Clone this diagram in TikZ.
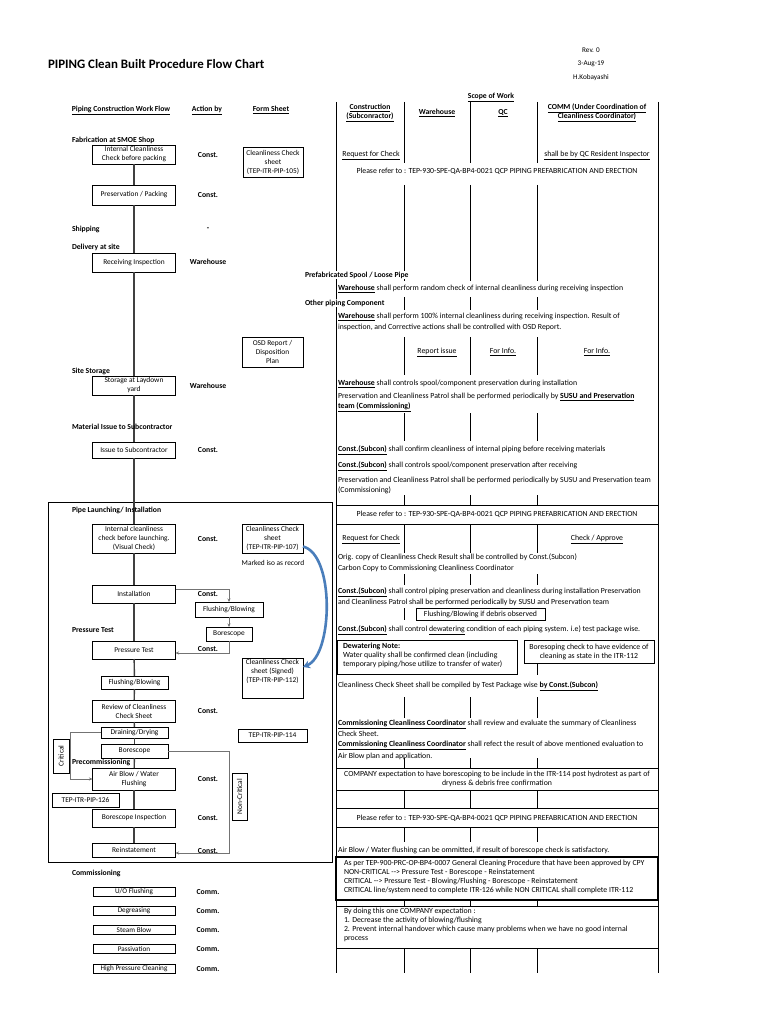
\documentclass[tikz,border=0pt]{standalone}
\usepackage{fontspec}
\setmainfont{Carlito}
\usetikzlibrary{arrows.meta,calc}
\newcommand\fsR{\fontsize{7.8}{9}\selectfont}
\newcommand\fsB{\fontsize{7.4}{9}\selectfont}
\newcommand\fsL{\fontsize{7.7}{9}\selectfont}
\newcommand\fsS{\fontsize{7.2}{8}\selectfont}
\definecolor{arrblue}{RGB}{74,126,187}
\begin{document}
\begin{tikzpicture}[x=1pt,y=-1pt,
  every node/.style={inner sep=0pt, outer sep=0pt},
  flow/.style={draw, line width=0.7pt, fill=white, align=center, minimum width=83pt, font=\fsB},
  sflow/.style={flow, minimum width=67pt},
  form/.style={draw, line width=0.7pt, fill=white, align=center, font=\fsB},
  cflow/.style={draw, line width=0.7pt, fill=white, minimum width=82pt, minimum height=9pt, font=\fsS},
  lab/.style={anchor=west, font=\fsL\bfseries},
  wlab/.style={anchor=west, font=\fsL\bfseries, fill=white, inner ysep=1pt},
  act/.style={font=\fsL\bfseries},
  hdr/.style={font=\fsL\bfseries, align=center},
  rt/.style={anchor=west, font=\fsR},
  ct/.style={font=\fsR, align=center},
  tbox/.style={draw, line width=0.8pt, fill=white},
  mainline/.style={line width=1.4pt, draw=black!75},
  conn/.style={line width=0.6pt, draw=black!55, -{Stealth[length=3.5pt,width=3pt]}},
  tline/.style={line width=1pt, draw=black},
  bluearrow/.style={line width=2.6pt, draw=arrblue, -{Stealth[length=7pt,width=8pt]}}
]
\useasboundingbox (0,0) rectangle (768,1024);
\fill[white] (0,0) rectangle (768,1024);

% ---------- header ----------
\node[anchor=west, font=\fontsize{12.9}{14}\selectfont\bfseries] (title) at (48,64) {PIPING Clean Built Procedure Flow Chart};
\node[font=\fsS] (rev) at (591,50) {Rev. 0};
\node[font=\fsS] (date) at (591,64) {3-Aug-19};
\node[font=\fsS] (auth) at (591,78) {H.Kobayashi};
\node[hdr] (scope) at (491,97) {\underline{Scope of Work}};
\node[hdr] (h1) at (121,110) {\underline{Piping Construction Work Flow}};
\node[hdr] (h2) at (207,110) {\underline{Action by}};
\node[hdr] (h3) at (271,110) {\underline{Form Sheet}};
\node[hdr] (h4) at (370,113) {\underline{Construction}\\\underline{(Subconractor)}};
\node[hdr] (h5) at (437,113) {\underline{Warehouse}};
\node[hdr] (h6) at (503,113) {\underline{QC}};
\node[hdr] (h7) at (597,113) {\underline{COMM (Under Coordination of}\\\underline{Cleanliness Coordinator)}};

% ---------- right table lines ----------
\draw[tline] (336,102) -- (336,973);
\draw[tline] (658,102) -- (658,973);
\foreach \a/\b in {102/163,185/281,297/310,337/375,413/441,495/505,524/553,574/585,697/718,758/768,790/808,827/842,900/906,948/973}{
  \foreach \x in {404,470,537}{ \draw[tline] (\x,\a) -- (\x,\b); }
}
\draw[tline] (404,608) -- (404,620);
\draw[tline] (537,663) -- (537,675);
\foreach \y in {505,524,768,790,808,827}{ \draw[tline] (336,\y) -- (658,\y); }
\draw[tline, line width=1.2pt] (336,857) rectangle (658,900);
\draw[tline] (336,906) rectangle (658,948);

% ---------- right texts ----------
\node[ct] (r1) at (371,155) {\underline{Request for Check}};
\node[ct] (r2) at (597,155) {\underline{shall be by QC Resident Inspector}};
\node[ct, fill=white, inner ysep=2pt] (r3) at (497,171) {Please refer to : TEP-930-SPE-QA-BP4-0021 QCP PIPING PREFABRICATION AND ERECTION};
\node[wlab] (r4) at (305,275) {Prefabricated Spool / Loose Pipe};
\node[rt] (r5) at (338,289) {\underline{\textbf{Warehouse}} shall perform random check of internal cleanliness during receiving inspection};
\node[wlab] (r6) at (305,303) {Other piping Component};
\node[rt] (r7) at (338,317) {\underline{\textbf{Warehouse}} shall perform 100\% internal cleanliness during receiving inspection. Result of};
\node[rt] (r8) at (338,327) {inspection, and Corrective actions shall be controlled with OSD Report.};
\node[ct] (r9a) at (437,352) {\underline{Report issue}};
\node[ct] (r9b) at (503,352) {\underline{For Info.}};
\node[ct] (r9c) at (597,352) {\underline{For Info.}};
\node[rt] (r10) at (338,384) {\underline{\textbf{Warehouse}} shall controls spool/component preservation during installation};
\node[rt] (r11) at (338,397) {Preservation and Cleanliness Patrol shall be performed periodically by \underline{\textbf{SUSU and Preservation}}};
\node[rt] (r12) at (338,407) {\underline{\textbf{team (Commissioning)}}};
\node[rt] (r13) at (338,450) {\underline{\textbf{Const.(Subcon)}} shall confirm cleanliness of internal piping before receiving materials};
\node[rt] (r14) at (338,466) {\underline{\textbf{Const.(Subcon)}} shall controls spool/component preservation after receiving};
\node[rt] (r15) at (338,480) {Preservation and Cleanliness Patrol shall be performed periodically by SUSU and Preservation team};
\node[rt] (r16) at (338,490) {(Commissioning)};
\node[ct] (r17) at (497,514) {Please refer to : TEP-930-SPE-QA-BP4-0021 QCP PIPING PREFABRICATION AND ERECTION};
\node[ct] (r18a) at (371,539) {\underline{Request for Check}};
\node[ct] (r18b) at (597,539) {\underline{Check / Approve}};
\node[rt] (r19) at (338,557) {Orig. copy of Cleanliness Check Result shall be controlled by Const.(Subcon)};
\node[rt] (r20) at (338,568) {Carbon Copy to Commissioning Cleanliness Coordinator};
\node[rt] (r21) at (338,592) {\underline{\textbf{Const.(Subcon)}} shall control piping preservation and cleanliness during installation Preservation};
\node[rt] (r22) at (338,602) {and Cleanliness Patrol shall be performed periodically by SUSU and Preservation team};
\node[tbox, font=\fsR, minimum width=129pt, minimum height=12pt] (fbd) at (480.5,614) {Flushing/Blowing if debris observed};
\node[rt] (r23) at (338,630) {\underline{\textbf{Const.(Subcon)}} shall control \underline{dewatering} condition of each piping system. i.e) test package wise.};
\node[tbox, minimum width=180pt, minimum height=34pt] (dwb) at (427,657) {};
\node[anchor=north west, font=\fsR, align=left] (dwt) at (343,643) {\textbf{Dewatering Note:}\\Water quality shall be confirmed clean (including\\temporary piping/hose utilize to transfer of water)};
\node[tbox, font=\fsR, align=center, minimum width=130pt, minimum height=23pt] (bsc) at (589,651.5) {Boresoping check to have evidence of\\cleaning as state in the ITR-112};
\node[rt] (r24) at (338,686) {Cleanliness Check Sheet shall be compiled by Test Package wise \underline{\textbf{by Const.(Subcon)}}};
\node[rt] (r25) at (338,724) {\underline{\textbf{Commissioning Cleanliness Coordinator}} shall review and evaluate the summary of Cleanliness};
\node[rt] (r26) at (338,734) {Check Sheet.};
\node[rt] (r27) at (338,745) {\underline{\textbf{Commissioning Cleanliness Coordinator}} shall refect the result of above mentioned evaluation to};
\node[rt] (r28) at (338,756) {Air Blow plan and application.};
\node[ct] (r29) at (497,778.5) {COMPANY expectation to have borescoping to be include in the ITR-114 post hydrotest as part of\\dryness \& debris free confirmation};
\node[ct] (r30) at (497,818) {Please refer to : TEP-930-SPE-QA-BP4-0021 QCP PIPING PREFABRICATION AND ERECTION};
\node[rt] (r31) at (338,850) {Air Blow / Water flushing can be ommitted, if result of borescope check is satisfactory.};
\node[anchor=north west, font=\fsR, align=left] (r32) at (344,860.5) {As per TEP-900-PRC-OP-BP4-0007 General Cleaning Procedure that have been approved by CPY\\NON-CRITICAL -{}-> Pressure Test - Borescope - Reinstatement\\CRITICAL -{}-> Pressure Test - Blowing/Flushing - Borescope - Reinstatement\\CRITICAL line/system need to complete ITR-126 while NON CRITICAL shall complete ITR-112};
\node[anchor=north west, font=\fsR, align=left] (r33) at (344,908) {By doing this one COMPANY expectation :\\1. Decrease the activity of blowing/flushing\\2. Prevent internal handover which cause many problems when we have no good internal\\process};

% ---------- left big box ----------
\draw[line width=0.8pt] (48,502) rectangle (332,862);

% ---------- flow boxes ----------
\node[flow, minimum height=19pt] (ic1) at (134,154.5) {Internal Cleanliness\\Check before packing};
\node[flow, minimum height=20pt] (pp) at (134,195) {Preservation / Packing};
\node[flow, minimum height=19pt] (ri) at (134,262.5) {Receiving Inspection};
\node[flow, minimum height=19pt] (sl) at (134,385.5) {Storage at Laydown\\yard};
\node[flow, minimum height=16pt] (is) at (134,450) {Issue to Subcontractor};
\node[flow, minimum height=29pt] (icl) at (134,538.5) {Internal cleanliness\\check before launching.\\(Visual Check)};
\node[flow, minimum height=18pt] (inst) at (134,594) {Installation};
\node[form, minimum width=68pt, minimum height=15pt] (fb1) at (229,609.5) {Flushing/Blowing};
\node[form, minimum width=46pt, minimum height=14pt] (bs1) at (229,634) {Borescope};
\node[flow, minimum height=18pt] (pt) at (134,650) {Pressure Test};
\node[sflow, minimum height=13pt] (fb2) at (134.5,682.5) {Flushing/Blowing};
\node[flow, minimum height=22pt] (rev) at (134,711) {Review of Cleanliness\\Check Sheet};
\node[sflow, minimum height=11pt] (dd) at (134.5,732.5) {Draining/Drying};
\node[sflow, minimum height=14pt] (bs2) at (134.5,751) {Borescope};
\node[flow, minimum height=22pt] (ab) at (134,779) {Air Blow / Water\\Flushing};
\node[flow, minimum height=18pt] (bi) at (134,818) {Borescope Inspection};
\node[flow, minimum height=14pt] (rs) at (134,850) {Reinstatement};

\node[cflow] (c1) at (134,892) {U/O Flushing};
\node[cflow] (c2) at (134,911) {Degreasing};
\node[cflow] (c3) at (134,930) {Steam Blow};
\node[cflow] (c4) at (134,949) {Passivation};
\node[cflow] (c5) at (134,969) {High Pressure Cleaning};

% ---------- form sheets ----------
\node[form, minimum width=60pt, minimum height=30pt] (f105) at (273,162) {Cleanliness Check\\sheet\\(TEP-ITR-PIP-105)};
\node[form, minimum width=61pt, minimum height=30pt] (osd) at (272.5,352) {OSD Report /\\Disposition\\Plan};
\node[form, minimum width=61pt, minimum height=29pt] (f107) at (272.5,538.5) {Cleanliness Check\\sheet\\(TEP-ITR-PIP-107)};
\node[font=\fsB] (iso) at (273,563) {Marked iso as record};
\node[form, minimum width=61pt, minimum height=40pt] (f112) at (272.5,678) {};
\node[font=\fsB, align=center, anchor=north] (f112t) at ([yshift=-1.5pt]f112.north) {Cleanliness Check\\sheet (Signed)\\(TEP-ITR-PIP-112)};
\node[form, minimum width=69pt, minimum height=13pt] (f114) at (272.5,735.5) {TEP-ITR-PIP-114};
\node[form, minimum width=67pt, minimum height=14pt] (f126) at (85.5,800) {TEP-ITR-PIP-126};

% ---------- main flow line ----------
\draw[mainline] (ic1) -- (pp);
\draw[mainline] (pp) -- (ri);
\draw[mainline] (ri) -- (sl);
\draw[mainline] (sl) -- (is);
\draw[mainline] (is) -- (icl);
\draw[mainline] (icl) -- (inst);
\draw[mainline] (inst) -- (pt);
\draw[mainline] (pt) -- (fb2);
\draw[mainline] (fb2) -- (rev);
\draw[mainline] (rev) -- (dd);
\draw[mainline] (dd) -- (bs2);
\draw[mainline] (bs2) -- (ab);
\draw[mainline] (ab) -- (bi);
\draw[mainline] (bi) -- (rs);

% ---------- side connectors ----------
\draw[conn] ([yshift=5pt]inst.east) -| (fb1.north);
\draw[conn] (fb1.south) -- (bs1.north);
\draw[conn] (bs1.south) |- ([yshift=-3pt]pt.east);
\draw[conn] (dd.west) -- ++(-31,0) |- (ab.west);
\draw[conn] (bs2.east) -- ++(61,0) |- ([yshift=-3pt]rs.east);
\node[form, rotate=90, minimum width=34pt, minimum height=16pt] (crit) at (61,756) {Critical};
\node[form, rotate=90, minimum width=47pt, minimum height=15pt] (ncrit) at (239.5,796.5) {Non-Critical};

\draw[bluearrow] ([yshift=-8pt]f107.east) .. controls +(32,8) and +(30,-12) .. ([yshift=11pt]f112.east);

% ---------- left labels ----------
\node[lab] (l1) at (72,140) {Fabrication at SMOE Shop};
\node[lab] (l2) at (72,229) {Shipping};
\node[lab] (l3) at (72,247) {Delivery at site};
\node[lab] (l4) at (72,371) {Site Storage};
\node[lab] (l5) at (72,427) {Material Issue to Subcontractor};
\node[lab] (l6) at (72,510) {Pipe Launching/ Installation};
\node[lab] (l7) at (72,630) {Pressure Test};
\node[lab] (l8) at (72,762.5) {Precommissioning};
\node[lab] (l9) at (72,873) {Commissioning};

% ---------- action by ----------
\node[act] (a1) at (208,155) {Const.};
\node[act] (a2) at (208,195) {Const.};
\node[act] (a3) at (208,229) {-};
\node[act] (a4) at (208,262) {Warehouse};
\node[act] (a5) at (208,386) {Warehouse};
\node[act] (a6) at (208,450) {Const.};
\node[act] (a7) at (208,539) {Const.};
\node[act] (a8) at (208,594) {Const.};
\node[act] (a9) at (208,649) {Const.};
\node[act] (a10) at (208,711) {Const.};
\node[act] (a11) at (208,779) {Const.};
\node[act] (a12) at (208,818) {Const.};
\node[act] (a13) at (208,851) {Const.};
\node[act] (a14) at (208,892) {Comm.};
\node[act] (a15) at (208,911) {Comm.};
\node[act] (a16) at (208,930) {Comm.};
\node[act] (a17) at (208,949) {Comm.};
\node[act] (a18) at (208,969) {Comm.};
\end{tikzpicture}
\end{document}
